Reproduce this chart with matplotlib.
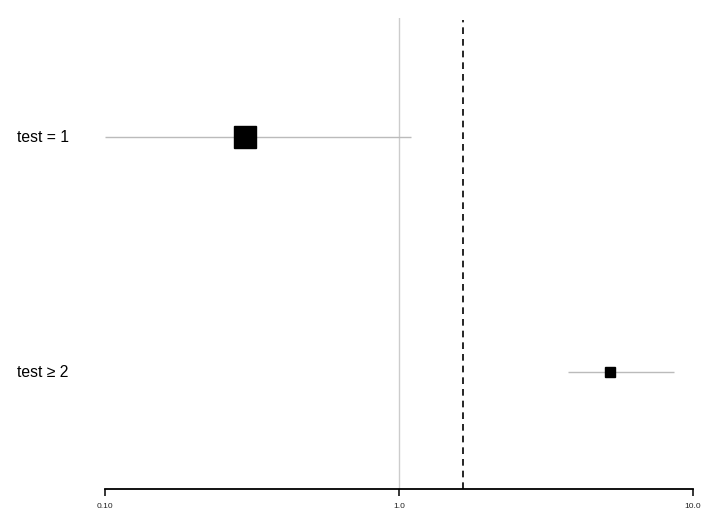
import matplotlib
matplotlib.use("Agg")
import matplotlib.pyplot as plt

plt.rcParams['font.family'] = ['Liberation Sans', 'DejaVu Sans']

# Data
labels = ["test = 1", "test \u2265 2"]
estimates = [0.30, 5.22]
ci_low = [0.10, 3.76]
ci_high = [1.10, 8.62]
summary = 1.65
tick_values = [0.1, 1.0, 10.0]
tick_labels = ["0.10", "1.0", "10.0"]

# Style
row_pos = [2, 1]
box_sizes = [15.8, 6.5]

W, H = 712, 528
fig = plt.figure(figsize=(W / 100, H / 100), dpi=100)
ax = fig.add_axes([105 / W, (H - 489) / H, (693 - 105) / W, (489 - 18) / H])
ax.set_xscale('log')
ax.set_xlim(0.1, 10)
ax.set_ylim(0.502, 2.507)

ax.axvline(1.0, color='#cccccc', lw=1.0, zorder=1)
ax.axvline(summary, ymin=0, ymax=(489 - 20) / (489 - 18), color='black', lw=1.2,
           dashes=(4, 3), zorder=1)

fig.canvas.draw()
for y, est, lo, hi, ms, lab in zip(row_pos, estimates, ci_low, ci_high, box_sizes, labels):
    ax.plot([lo, hi], [y, y], color='#bbbbbb', lw=1.0, zorder=2, solid_capstyle='butt')
    ax.plot([est], [y], marker='s', color='black', markersize=ms, linestyle='none', zorder=3)
    ax.text(17 / W, ax.transData.transform((1, y))[1] / H, lab, transform=fig.transFigure,
            ha='left', va='center', fontsize=11.3)

for s in ['top', 'right', 'left']:
    ax.spines[s].set_visible(False)
ax.spines['bottom'].set_linewidth(1.3)
ax.set_yticks([])
ax.set_xticks(tick_values)
ax.set_xticklabels(tick_labels, fontsize=6, color='#222222')
ax.xaxis.set_minor_locator(matplotlib.ticker.NullLocator())
ax.tick_params(axis='x', direction='out', length=5, width=1.1, pad=5)

fig.savefig("out.png", dpi=100)
